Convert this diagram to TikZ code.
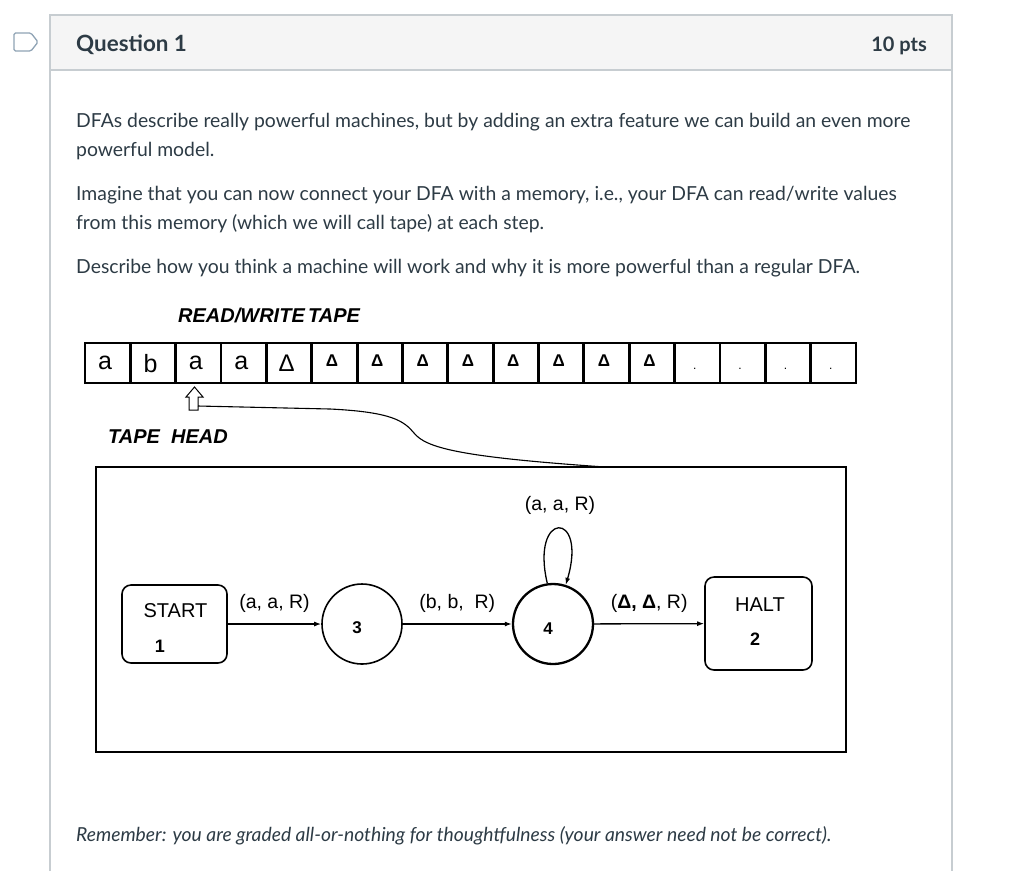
\documentclass[tikz,border=0pt]{standalone}
\usepackage{fontspec}
\setmainfont{Lato}
\newfontfamily\diagfont{Liberation Sans}
\usetikzlibrary{arrows.meta}

\definecolor{canvastext}{HTML}{2D3B45}
\definecolor{headergray}{HTML}{F5F5F5}
\definecolor{bordergray}{HTML}{C7CDD1}
\definecolor{iconblue}{HTML}{8FA3B5}

% tape symbols
\newcommand{\tapebigdelta}{\fontsize{24}{24}\selectfont Δ}
\newcommand{\tapesmalldelta}{\raisebox{4pt}{\fontsize{17}{17}\selectfont\bfseries Δ}}
\newcommand{\tapedot}{\raisebox{-6pt}{\fontsize{12}{12}\selectfont .}}

\tikzset{
  prose/.style={anchor=base west, inner sep=0pt, text=canvastext,
    font=\fontsize{19.35}{22}\selectfont},
  diag/.style={inner sep=0pt, font=\diagfont\fontsize{19.5}{22}\selectfont},
  tapecell/.style={draw, line width=2.8pt, minimum width=45.35pt, minimum height=40pt,
    inner sep=0pt, font=\diagfont\fontsize{25}{25}\selectfont},
  state/.style={draw, circle, line width=1.6pt, minimum size=80pt, inner sep=0pt},
  endstate/.style={draw, rounded corners=9pt, line width=1.6pt, inner sep=0pt},
  trans/.style={-{Latex[length=7pt,width=5pt]}, line width=1.3pt},
}

\begin{document}
\begin{tikzpicture}[x=1pt, y=-1pt]
                \useasboundingbox (0,0) rectangle (1024,871);
                \fill[white] (0,0) rectangle (1024,871);

                % Question frame and header
                \fill[headergray] (50,15) rectangle (952,70);
                \draw[bordergray, line width=1.2pt] (50,871) -- (50,15) -- (952,15) -- (952,871);
                \draw[bordergray, line width=1.2pt] (50,70) -- (952,70);
                \draw[iconblue, line width=1.3pt, rounded corners=1.5pt]
                    (14,33) -- (31,33) -- (38,42) -- (31,51) -- (14,51) -- cycle;
                \node[prose, font=\fontsize{22.4}{26}\selectfont\bfseries] (qtitle) at (76,51) {Question 1};
                \node[prose, anchor=base east, font=\fontsize{20}{24}\selectfont\bfseries] (qpts) at (927,51) {10 pts};

                % Question text
                \node[prose] (line1) at (76,127) {DFAs describe really powerful machines, but by adding an extra feature we can build an even more};
                \node[prose] (line2) at (76,156) {powerful model.};
                \node[prose] (line3) at (76,200) {Imagine that you can now connect your DFA with a memory, i.e., your DFA can read/write values};
                \node[prose] (line4) at (76,229) {from this memory (which we will call tape) at each step.};
                \node[prose] (line5) at (76,273) {Describe how you think a machine will work and why it is more powerful than a regular DFA.};

                % Tape
                \node[diag, anchor=base west, font=\diagfont\fontsize{20}{24}\selectfont\bfseries\itshape] (tapetitle) at (178,322) {READ/WRITE\,TAPE};
                \foreach \i/\s in {1/a, 2/b, 3/a, 4/a, 5/\tapebigdelta, 6/\tapesmalldelta, 7/\tapesmalldelta,
                                   8/\tapesmalldelta, 9/\tapesmalldelta, 10/\tapesmalldelta, 11/\tapesmalldelta,
                                   12/\tapesmalldelta, 13/\tapesmalldelta, 14/\tapedot, 15/\tapedot, 16/\tapedot, 17/\tapedot} {
                    \pgfmathsetmacro{\xcell}{85 + 45.35*(\i - 0.5)}
                    \node[tapecell, text depth=0pt] (cell\i) at (\xcell,363) {\hspace*{-5pt}\s};
                }

                % Tape head
                \draw[line width=1pt, fill=white] (189,410) -- (189,397) -- (186,397) -- (194.5,387)
                    -- (203,397) -- (198,397) -- (198,410) -- cycle;
                \coordinate (headtail) at (198,406);
                \coordinate (headend) at (605,467);
                \draw[line width=1.1pt] (headtail) -- (330,409) .. controls (392,412) and (404,421) .. (414,433)
                    .. controls (426,448) and (460,457) .. (headend);
                \node[diag, anchor=base west, font=\diagfont\fontsize{20}{24}\selectfont\bfseries\itshape] (headlabel) at (108,443) {TAPE\ \ HEAD};

                % Finite control
                \node[draw, line width=2.2pt, minimum width=750pt, minimum height=285pt, inner sep=0pt] (machine) at (471,609.5) {};

                % States
                \node[endstate, minimum width=105pt, minimum height=78pt] (start) at (174.5,624) {};
                \node[diag, anchor=base, font=\diagfont\fontsize{20}{24}\selectfont] (startname) at (175.5,617) {START};
                \node[diag, anchor=base, font=\diagfont\fontsize{18}{24}\selectfont\bfseries] (startnum) at (160,652) {1};
                \node[state] (q3) at (362,624) {};
                \node[diag, anchor=base, font=\diagfont\fontsize{17}{24}\selectfont\bfseries] (q3num) at (357,633) {3};
                \node[state, line width=2.3pt] (q4) at (553,624) {};
                \node[diag, anchor=base, font=\diagfont\fontsize{17}{24}\selectfont\bfseries] (q4num) at (548,634) {4};
                \node[endstate, minimum width=107pt, minimum height=93pt] (halt) at (758.5,623.5) {};
                \node[diag, anchor=base, font=\diagfont\fontsize{20}{24}\selectfont] (haltname) at (760,611) {HALT};
                \node[diag, anchor=base, font=\diagfont\fontsize{18}{24}\selectfont\bfseries] (haltnum) at (755,645) {2};

                % Transitions
                \draw[trans] (start) -- node[diag, above=11pt] (lab1) {(a, a, R)} (q3);
                \draw[trans] (q3) -- node[diag, above=11pt] (lab2) {(b, b,\ \ R)} (q4);
                \draw[trans] (q4) -- node[diag, above=11pt] (lab3) {(\textbf{Δ, Δ}, R)} (halt);
                \draw[trans] (q4.98) .. controls (530,510) and (588,510) .. (q4.72);
                \node[diag, anchor=base] (lab4) at (560,510) {(a, a, R)};

                % Closing remark
                \node[prose, font=\fontsize{19.3}{22}\selectfont\itshape] (remark) at (76,841)
                    {Remember: you are graded all-or-nothing for thoughtfulness (your answer need not be correct).};
\end{tikzpicture}
\end{document}
